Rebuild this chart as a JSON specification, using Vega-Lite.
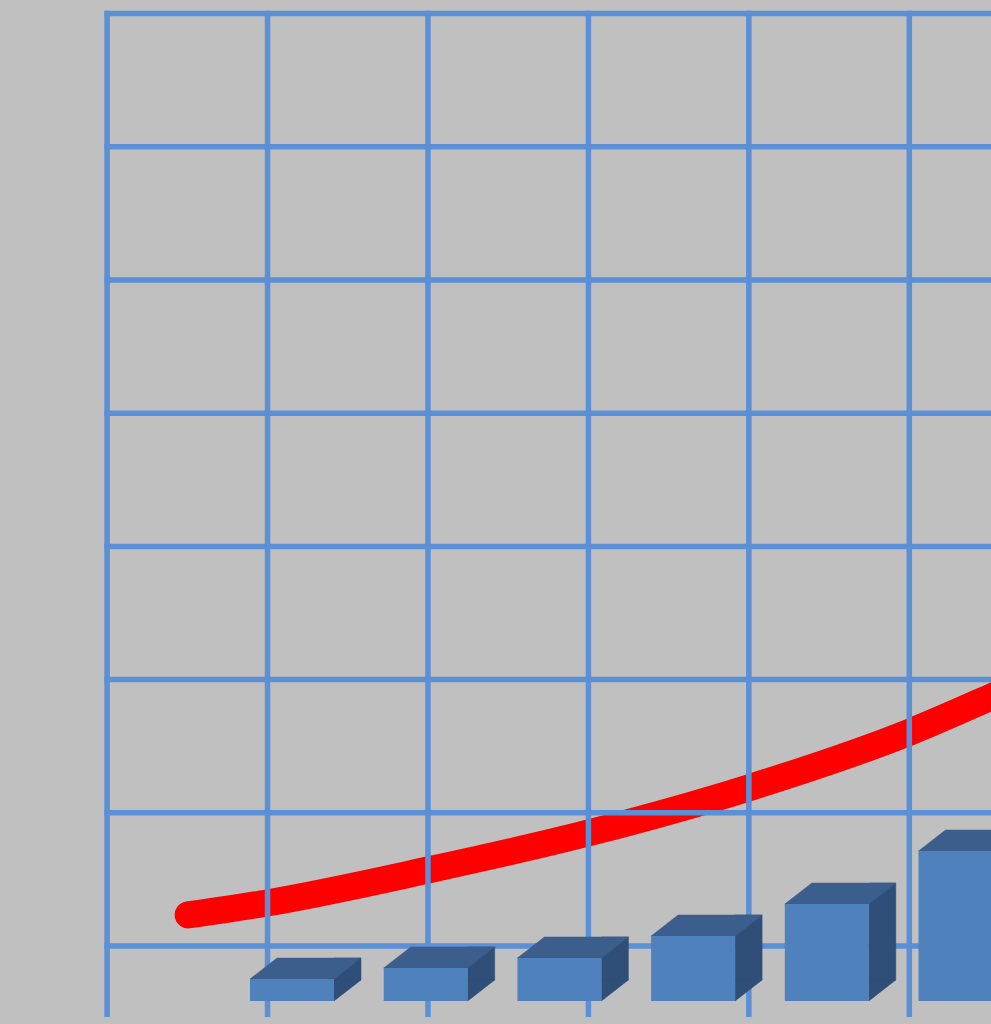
{
  "$schema": "https://vega.github.io/schema/vega-lite/v6.json",
  "width": 991,
  "height": 1024,
  "autosize": "none",
  "padding": 0,
  "background": "#c0c0c0",
  "config": {"view": {"stroke": null}, "axis": {"disable": true}},
  "layer": [
    {
      "data": {
        "values": [
          {"x": 0.223, "y": 6.46},
          {"x": 0.813, "y": 7.36},
          {"x": 2.017, "y": 9.83},
          {"x": 3.214, "y": 12.61},
          {"x": 4.411, "y": 15.99},
          {"x": 5.623, "y": 20.2},
          {"x": 6.228, "y": 22.82},
          {"x": 6.595, "y": 24.47}
        ]
      },
      "mark": {"type": "line", "color": "#ff0000", "strokeWidth": 27, "strokeCap": "round", "interpolate": "monotone", "clip": true},
      "encoding": {
        "x": {"field": "x", "type": "quantitative", "scale": {"domain": [-1.184, 6.228], "nice": false, "zero": false}},
        "y": {"field": "y", "type": "quantitative", "scale": {"domain": [-1.727, 75.15], "nice": false, "zero": false}}
      }
    },
    {
      "data": {"values": [{"gx": -0.383}, {"gx": 0.817}, {"gx": 2.017}, {"gx": 3.217}, {"gx": 4.417}, {"gx": 5.617}]},
      "mark": {"type": "rule", "color": "#5b8fd6", "strokeWidth": 5.5, "strokeCap": "square", "clip": true},
      "encoding": {
        "x": {"field": "gx", "type": "quantitative"},
        "y": {"datum": 74.13},
        "y2": {"datum": -1.0}
      }
    },
    {
      "data": {"values": [{"gy": 4.13}, {"gy": 14.13}, {"gy": 24.13}, {"gy": 34.13}, {"gy": 44.13}, {"gy": 54.13}, {"gy": 64.13}, {"gy": 74.13}]},
      "mark": {"type": "rule", "color": "#5b8fd6", "strokeWidth": 5.5, "strokeCap": "square", "clip": true},
      "encoding": {
        "y": {"field": "gy", "type": "quantitative"},
        "x": {"datum": -0.383},
        "x2": {"datum": 6.4}
      }
    },
    {
      "data": {
        "values": [
          {"bar": 1, "value": 1.65},
          {"bar": 2, "value": 2.48},
          {"bar": 3, "value": 3.23},
          {"bar": 4, "value": 4.88},
          {"bar": 5, "value": 7.28},
          {"bar": 6, "value": 11.26}
        ]
      },
      "layer": [
        {
          "mark": {"type": "rect", "color": "#2f4f78", "stroke": "#2f4f78", "strokeWidth": 0.5, "xOffset": 42, "x2Offset": 69, "yOffset": -21, "y2Offset": -21, "clip": true},
          "encoding": {
            "x": {"field": "bar", "type": "quantitative"},
            "x2": {"field": "bar"},
            "y": {"field": "value", "type": "quantitative"},
            "y2": {"datum": 0}
          }
        },
        {
          "mark": {"type": "point", "shape": "M 42 -21 L 42 0 L 69 -21 Z", "size": 4, "filled": true, "fill": "#2f4f78", "stroke": "#2f4f78", "strokeWidth": 0.5, "opacity": 1, "clip": true},
          "encoding": {
            "x": {"field": "bar", "type": "quantitative"},
            "y": {"datum": 0}
          }
        },
        {
          "mark": {"type": "point", "shape": "M -42 0 L 42 0 L 69 -21 L -15 -21 Z", "size": 4, "filled": true, "fill": "#3b5e8c", "stroke": "#3b5e8c", "strokeWidth": 0.5, "opacity": 1, "clip": true},
          "encoding": {
            "x": {"field": "bar", "type": "quantitative"},
            "y": {"field": "value", "type": "quantitative"}
          }
        },
        {
          "mark": {"type": "rect", "color": "#4f81bd", "xOffset": -42, "x2Offset": 42, "clip": true},
          "encoding": {
            "x": {"field": "bar", "type": "quantitative"},
            "x2": {"field": "bar"},
            "y": {"field": "value", "type": "quantitative"},
            "y2": {"datum": 0}
          }
        }
      ]
    }
  ]
}
